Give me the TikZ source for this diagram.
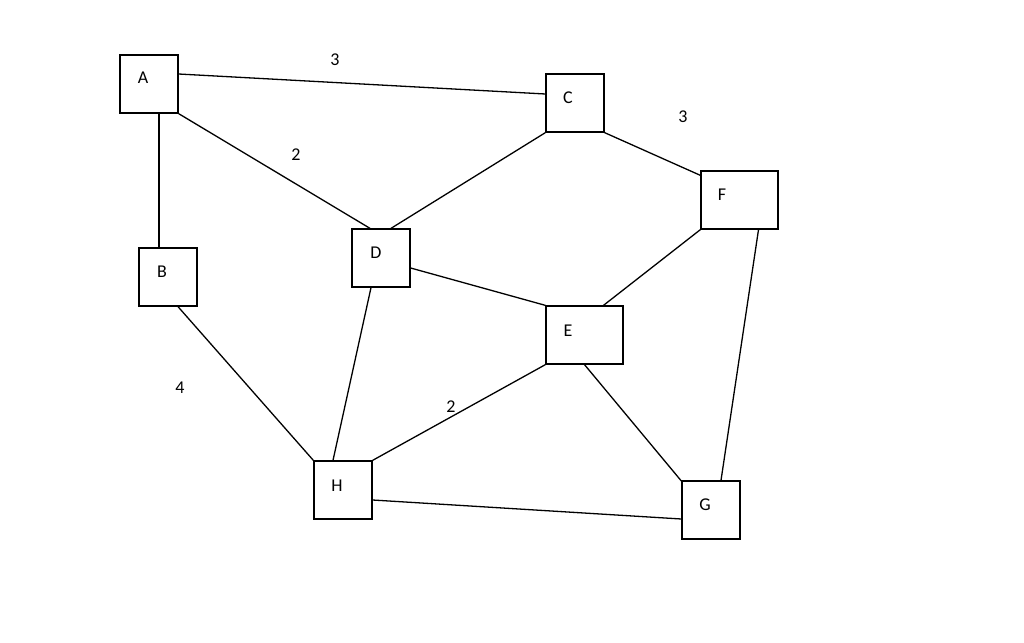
\documentclass[tikz,border=0pt]{standalone}
\usepackage{fontspec}
\setmainfont{Carlito}
\begin{document}
\begin{tikzpicture}[x=1pt,y=-1pt,line width=1.3pt,
  box/.style={draw,rectangle,minimum height=58pt,inner sep=0pt},
  lbl/.style={font=\fontsize{18}{20}\selectfont}]
\useasboundingbox (0,0) rectangle (1024,642);
\node[box,minimum width=58pt] (A) at (149,84) {};
\node[box,minimum width=58pt] (B) at (168,277) {};
\node[box,minimum width=58pt] (C) at (575,103) {};
\node[box,minimum width=58pt] (D) at (381,258) {};
\node[box,minimum width=77pt] (E) at (584.5,335) {};
\node[box,minimum width=77pt] (F) at (739.5,200) {};
\node[box,minimum width=58pt] (G) at (711,510) {};
\node[box,minimum width=58pt] (H) at (343,490) {};
\foreach \n/\x/\y in {A/143/78,B/162/272,C/568/98,D/376/253,E/568/331,F/722/195,G/705/505,H/337/486}
  \node[lbl] (t\n) at (\x,\y) {\n};
\draw ([yshift=10pt]A.east) -- ([yshift=9pt]C.west);
\draw ([xshift=10pt]A.south) -- ([xshift=-9pt]B.north);
\draw (A.south east) -- ([xshift=-11pt]D.north);
\draw (C.south west) -- ([xshift=10pt]D.north);
\draw (C.south east) -- ([yshift=-5pt]F.north west);
\draw (F.south west) -- ([xshift=19pt]E.north);
\draw ([xshift=19pt]F.south) -- ([xshift=10pt]G.north);
\draw ([yshift=-10pt]D.east) -- (E.north west);
\draw ([xshift=-10pt]D.south) -- ([xshift=-10pt]H.north);
\draw ([xshift=10pt]B.south) -- (H.north west);
\draw (E.south west) -- (H.north east);
\draw (E.south) -- ([yshift=29pt]G.west);
\draw ([yshift=-10pt]H.east) -- ([yshift=-9pt]G.west);
\node[lbl] (w1) at (335,60) {3};
\node[lbl] (w2) at (296,155) {2};
\node[lbl] (w3) at (683,117) {3};
\node[lbl] (w4) at (180,388) {4};
\node[lbl] (w5) at (451,407) {2};
\end{tikzpicture}
\end{document}
